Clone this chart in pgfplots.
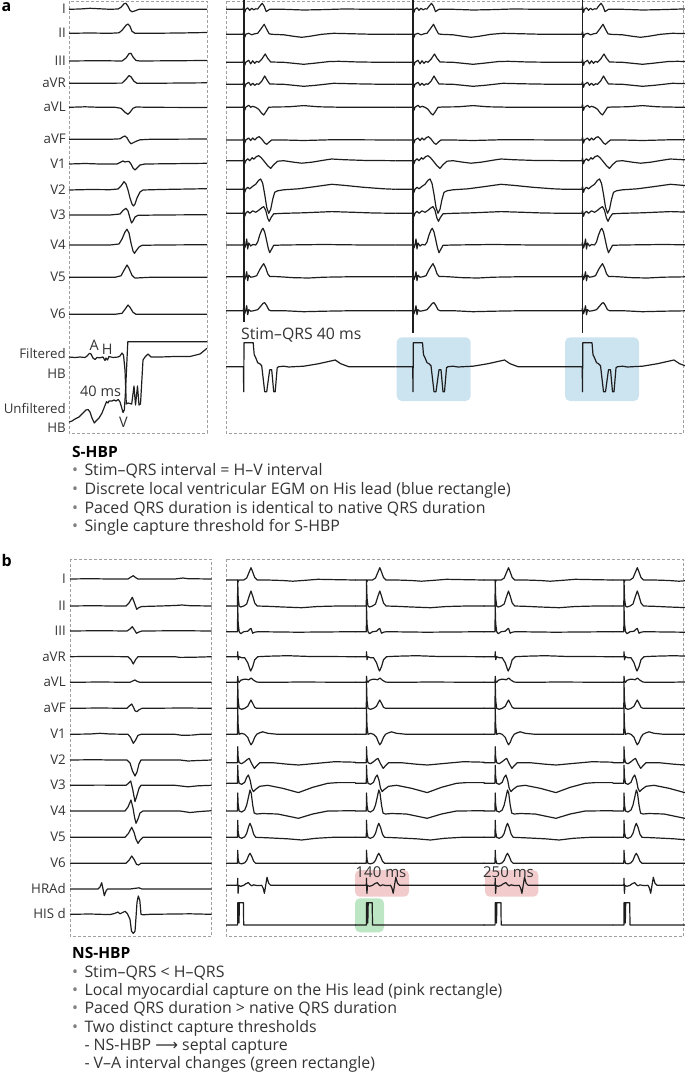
\documentclass[border=0pt]{standalone}
\usepackage{pgfplots}
\pgfplotsset{compat=1.18}
\usepackage{pgfplotstable}
\usepackage{fontspec}
\setmainfont{Open Sans}
\newfontfamily\djv{DejaVu Sans}
\definecolor{trc}{HTML}{1E1E1E}
\definecolor{labc}{HTML}{333333}
\definecolor{boxc}{HTML}{A0A0A0}
\definecolor{bluebox}{HTML}{CCE3F0}
\definecolor{pinkbox}{HTML}{F2CCCC}
\definecolor{greenbox}{HTML}{BDE6C4}
\definecolor{bulc}{HTML}{808080}

% ---------- panel a, native beat (absolute x, amplitude up) ----------
\pgfplotstableread[row sep=\\]{x y\\69 0\\80 0.3\\90 1\\100 0.5\\110 0\\118 0.3\\121 2\\124 5.5\\126 6\\128 3\\130 -1\\132 -2.5\\135 -1.5\\139 0\\150 0\\207 0\\}\aLI
\pgfplotstableread[row sep=\\]{x y\\69 0\\90 0.3\\110 0\\119 0.5\\122 3\\126 8\\128 9.3\\130 7\\132 2\\135 0\\150 0\\180 0.3\\207 0.8\\}\aLII
\pgfplotstableread[row sep=\\]{x y\\69 0\\100 0.3\\122 0\\126 3\\129 7.3\\131 7.7\\133 4\\136 0.5\\140 0\\207 0.5\\}\aLIII
\pgfplotstableread[row sep=\\]{x y\\69 0\\100 0\\122 0.2\\126 4\\129 7.7\\131 6.5\\134 2\\137 0\\150 0\\207 0.5\\}\aLaVR
\pgfplotstableread[row sep=\\]{x y\\69 0\\85 0.5\\100 0\\115 0\\121 -1\\125 -5\\128 -7\\130 -5\\133 -1\\136 0.3\\150 0\\207 -0.2\\}\aLaVL
\pgfplotstableread[row sep=\\]{x y\\69 0\\110 0\\120 0.5\\123 2.5\\125 3.3\\127 1.5\\129 -2\\131 -4.5\\133 -3.5\\136 -2\\140 -0.5\\150 0\\207 0.3\\}\aLaVF
\pgfplotstableread[row sep=\\]{x y\\69 0\\85 0.5\\100 0\\117 0\\121 2\\123 3\\125 2\\127 2.5\\129 2.5\\131 0\\133 -4\\135 -6\\137 -4\\140 -1\\145 0\\207 0.7\\}\aLVi
\pgfplotstableread[row sep=\\]{x y\\69 0\\90 0.5\\110 0.3\\118 1\\121 4\\124 8.3\\126 6\\128 0\\130 -8\\132 -14\\133.5 -16\\135 -14\\137 -8\\140 -2\\143 0\\160 0.5\\207 1.3\\}\aLVii
\pgfplotstableread[row sep=\\]{x y\\69 0\\110 0\\120 1\\123 4.5\\126 6.7\\128 4\\130 -3\\131.5 -8\\133 -6\\135 -2\\138 -0.3\\160 0\\207 0.3\\}\aLViii
\pgfplotstableread[row sep=\\]{x y\\69 0\\110 0\\119 1\\122 6\\125 13\\127 15.7\\129 12\\131 2\\133 -6\\134.5 -8.3\\136 -6\\139 -2\\142 -0.3\\160 0\\207 0.3\\}\aLViv
\pgfplotstableread[row sep=\\]{x y\\69 0\\115 0\\121 1.5\\124 7\\127 12.3\\129 9\\132 2\\135 -0.8\\140 -0.5\\150 0\\207 0\\}\aLVv
\pgfplotstableread[row sep=\\]{x y\\69 0\\115 0\\122 1\\125 5\\128 9.3\\130 7\\133 2\\136 0\\207 0\\}\aLVvi
% filtered / unfiltered HB (absolute y)
\pgfplotstableread[row sep=\\]{x y\\69 357\\75 357.5\\80 357\\85 357.5\\87 356\\89.5 353.3\\91 354\\93 358\\95 359.5\\97 357.5\\100 357.8\\103 357\\105 360.5\\106 358\\107.5 360\\109 356.5\\113 357.5\\118 357\\120 356\\122 353\\123.5 355\\125 370\\126.3 404\\128 403\\131.7 404\\134 386\\135.5 405\\137.5 386\\139 405\\140.5 404\\143 360\\145 357\\148 354\\151 357\\160 357\\175 356.5\\190 356.5\\200 354\\207 348.3\\}\aFilt
\pgfplotstableread[row sep=\\]{x y\\69 422\\72 421\\75 419\\79 417\\83 413\\86 410\\88 409.5\\90 412\\92 418\\94.3 423\\96 421\\99 418\\102 413\\104 408\\106.5 401.7\\108 403\\109 401\\112 401\\114 400\\116 401\\118.3 399.5\\120 402\\121.5 407\\123 412.5\\124.3 410\\125.3 395\\126.5 370\\127.8 341.7\\207 341.7\\}\aUnf

% ---------- panel a, paced beat templates (dx from stimulus) ----------
\pgfplotstableread[row sep=\\]{x y\\-17.5 0\\-0.5 0\\0 3\\1 -3\\2 0\\4 1.5\\6 -1\\8 1\\10 -0.5\\12 0.5\\14 0.3\\16 3\\18.5 6\\20.5 3\\22.5 -2.3\\24.5 -1\\26 0\\40 0\\60 -0.7\\80 -0.3\\100 0.3\\130 0\\152 0\\}\aRI
\pgfplotstableread[row sep=\\]{x y\\-17.5 0\\-0.5 0\\0 3\\1 -3\\2 0\\5 1\\8 -0.5\\11 0.5\\14 1\\17 5\\20.5 10\\23 5\\25.5 0.5\\28 0\\40 -0.5\\50 -2\\58 -3\\66 -2\\78 0\\90 1\\110 0.5\\130 0\\152 0\\}\aRII
\pgfplotstableread[row sep=\\]{x y\\-17.5 0\\-0.5 0\\0 3\\1 -3\\2 0\\5 2\\7 -1.5\\9 1.5\\11 -1\\13 1\\15 0\\18 3\\21.5 8.3\\24 4\\27 0.3\\40 0\\50 -1\\60 -2\\70 -1\\85 0.7\\95 1\\115 0.3\\140 0\\152 0\\}\aRIII
\pgfplotstableread[row sep=\\]{x y\\-17.5 0\\-0.5 0\\0 3\\1 -3\\2 0\\5 2\\7 -1\\9 1\\11 -1\\13 0.5\\15 0\\18 3\\21 8.3\\23.5 4\\26 0.3\\40 0\\50 -1\\60 -2\\72 -1\\90 1\\110 0.5\\140 0\\152 0\\}\aRaVR
\pgfplotstableread[row sep=\\]{x y\\-17.5 0\\-0.5 0\\0 3\\1 -3\\2 0\\5 2\\7 0\\9 1\\12 0\\15 -2\\18 -6\\20 -7.7\\22.5 -4\\25 0\\30 0.3\\45 0.5\\60 1.7\\75 0.5\\100 0\\152 0\\}\aRaVL
\pgfplotstableread[row sep=\\]{x y\\-17.5 0\\-0.5 0\\0 3\\1 -3\\2 0\\5 2\\7 -0.5\\9 2\\11 0\\13.5 2.5\\15.5 3.3\\18 1\\21 -3\\23 -4.3\\25.5 -2\\28 0\\40 0\\60 -0.5\\90 0.3\\152 0\\}\aRaVF
\pgfplotstableread[row sep=\\]{x y\\-17.5 0\\-0.5 0\\0 3\\1 -3\\2 0\\4 2\\6 0\\8.5 3\\10 1.5\\12.5 4\\15 5\\17.5 3\\20 0\\24 -5\\27 -7.7\\30 -4\\34 -0.5\\40 0\\50 -1.5\\58 -2.5\\68 -1.5\\80 0.5\\88 1.7\\100 1\\120 0.3\\152 0\\}\aRVi
\pgfplotstableread[row sep=\\]{x y\\-17.5 0\\-0.5 0\\0 3\\1 -3\\2 0\\4 2\\6 0.5\\9 3\\12 5\\15 9\\17 10.3\\19 6\\21 -5\\23 -18\\25 -24\\27 -20\\29 -10\\31 -3\\34 -1.5\\40 -0.5\\55 0.5\\70 2.5\\88 5\\100 4\\120 2\\140 0.5\\152 0\\}\aRVii
\pgfplotstableread[row sep=\\]{x y\\-17.5 0\\-0.5 0\\0 3\\1 -3\\2 0\\4 2\\6 0\\9 2.5\\12 1\\15 3\\18 5.5\\20 6.7\\22 3\\24 -5\\25.5 -8\\27.5 -4\\30 -0.5\\40 0\\60 0.5\\88 1.7\\110 1\\130 0.3\\152 0\\}\aRViii
\pgfplotstableread[row sep=\\]{x y\\-17.5 0\\-0.5 0\\0 3\\1 -3\\2 0\\3 6\\4 -4\\5 2\\7 -1\\9 0.5\\12 0\\14 3\\16 10\\18 15\\19.3 16.7\\21 13\\23 4\\24.5 -3\\26 -7.7\\28 -4\\30 -0.3\\40 0\\80 0.5\\120 0\\152 0\\}\aRViv
\pgfplotstableread[row sep=\\]{x y\\-17.5 0\\-0.5 0\\0 3\\1 -3\\2 0\\3 5\\4 -4\\5 1.5\\7 -0.5\\10 0\\13 1\\16 7\\18.5 11\\20 13\\22 9\\24 3\\26 0.3\\35 0\\50 -1\\65 -1.3\\80 -0.5\\110 0\\152 0\\}\aRVv
\pgfplotstableread[row sep=\\]{x y\\-17.5 0\\-0.5 0\\0 3\\1 -3\\2 0\\3 5\\4 -4\\5 1\\7 -0.5\\10 0\\14 1\\17 4.5\\19.5 7.5\\21 8\\23 5\\25 1\\27 0\\40 0\\60 -1\\80 -0.5\\110 0\\152 0\\}\aRVvi
\pgfplotstableread[row sep=\\]{x y\\-17.5 0\\-0.3 0\\0 -25\\0.3 24\\9.5 24\\10.5 12\\12 9\\14 4\\16 3\\18 1\\21 -25\\23 -25\\26 -3\\28 -3\\30 -25\\31.5 -25\\33.5 -1\\35 0\\40 0.5\\45 -0.3\\50 0\\60 0.5\\75 3\\91.5 6.7\\97 3\\105 0\\152 0\\}\aRHB

% ---------- panel b, native beat ----------
\pgfplotstableread[row sep=\\]{x y\\70 0\\90 0.3\\110 0\\128 0\\131 2\\133.3 3.3\\135.5 1.5\\138 0\\175 0\\183 1\\188 0.3\\211.7 0\\}\bLI
\pgfplotstableread[row sep=\\]{x y\\70 0\\95 0.3\\110 0\\126 0\\129 3\\132.3 8.7\\134.5 3\\136.7 -3.3\\139 -1.5\\142 -0.5\\160 0\\175 0.5\\182 1\\190 0.3\\211.7 0\\}\bLII
\pgfplotstableread[row sep=\\]{x y\\70 0\\100 0.3\\127 0\\130 2\\132.3 4.3\\134.5 1\\136.5 -2.3\\139 -1\\142 0\\180 0.3\\211.7 0\\}\bLIII
\pgfplotstableread[row sep=\\]{x y\\70 0\\90 0.3\\128 0\\131 -3\\133.3 -7.3\\135.5 -3\\138 0\\175 0\\180 -0.7\\195 -0.5\\211.7 0\\}\bLaVR
\pgfplotstableread[row sep=\\]{x y\\70 0\\100 0.3\\130 0\\133 1.5\\135 2.3\\137 1\\140 0\\211.7 0\\}\bLaVL
\pgfplotstableread[row sep=\\]{x y\\70 0\\100 0.3\\127 0\\129.5 2.5\\131.7 4.3\\133.5 1\\135 -2.5\\137 -3.3\\139 -1.5\\142 0\\185 0.3\\211.7 0\\}\bLaVF
\pgfplotstableread[row sep=\\]{x y\\70 0\\90 0.3\\100 1\\110 0.3\\128 0\\130.5 -3\\133.3 -9\\135.5 -6\\138 -1\\141 0\\175 0\\182 -1\\192 -0.8\\200 0\\211.7 0\\}\bLVi
\pgfplotstableread[row sep=\\]{x y\\70 0\\95 0.3\\110 0\\127 0\\130 -3\\132.5 -11\\135 -16\\137 -12\\139 -4\\141 0\\180 0\\188 -1\\198 -0.5\\211.7 0\\}\bLVii
\pgfplotstableread[row sep=\\]{x y\\70 0\\100 0.2\\126 0\\128.5 2\\130.7 4.3\\132.5 -3\\135 -16.3\\137 -10\\139 -3\\141 0\\175 0\\188 -1.5\\198 -0.5\\211.7 0\\}\bLViii
\pgfplotstableread[row sep=\\]{x y\\70 0\\110 0\\125 0\\128 4\\131 11\\133 3\\134.5 -6\\136 -12.3\\138 -8\\140 -2\\143 0\\180 0\\190 -1.5\\200 -0.5\\211.7 0.3\\}\bLViv
\pgfplotstableread[row sep=\\]{x y\\70 0\\125 0\\128.5 4\\131.7 10\\134 5\\136 -2\\138 -6\\140 -3\\143 0\\211.7 0\\}\bLVv
\pgfplotstableread[row sep=\\]{x y\\70 0\\126 0\\129 3\\131.7 7.3\\134 4\\136.5 -1\\138.5 -1.7\\141 0\\211.7 0\\}\bLVvi
\pgfplotstableread[row sep=\\]{x y\\70 0\\98 0\\100 2\\101.7 6.3\\103 0\\104.3 -6.7\\106 -2\\107.5 0\\130 0\\136 0.8\\139 1.2\\142 0\\211.7 0\\}\bLHRA
\pgfplotstableread[row sep=\\]{x y\\70 0\\90 0.3\\110 -0.3\\115 1\\118 2.3\\120 0.5\\122 1.5\\125 3\\127.5 0.5\\130 -5\\131.5 -17\\133.3 -19\\135 -17\\136 -3\\137 12\\138.3 18.3\\139.8 14\\141 0\\143 -0.5\\150 0\\190 0.5\\211.7 0\\}\bLHIS

% ---------- panel b, paced beat templates ----------
\pgfplotstableread[row sep=\\]{x y\\-11.5 0\\0 0\\0.3 -2\\1 0\\6 0\\9 2\\11.5 8\\13.3 12.3\\15 8\\17 2.5\\19.5 0\\30 0\\45 -0.5\\55 -1.2\\65 -0.5\\80 0.7\\100 0.3\\118 0\\}\bRI
\pgfplotstableread[row sep=\\]{x y\\-11.5 0\\-0.2 0\\0 26\\0.5 8\\1.5 0\\3 -1\\6 0\\9 2\\11.5 10\\13.3 15\\15 10\\17 3\\19.5 0\\30 -0.3\\45 -1\\64 -1.7\\80 -0.5\\100 0\\118 0\\}\bRII
\pgfplotstableread[row sep=\\]{x y\\-11.5 0\\-0.2 0\\0 26\\0.5 8\\1.5 0\\3 -2\\6 0\\10 0.5\\12 2.5\\13.3 3.3\\15 -1.5\\17 -0.5\\20 0\\60 -0.5\\118 0\\}\bRIII
\pgfplotstableread[row sep=\\]{x y\\-11.5 0\\-0.2 0\\0 5\\0.5 -3\\1.5 0\\4 -1\\7 -1\\10 -6\\12 -12\\13 -14.3\\15 -10\\17 -3\\20 0\\30 0.5\\50 1\\70 0.3\\118 0\\}\bRaVR
\pgfplotstableread[row sep=\\]{x y\\-11.5 0\\-0.2 0\\0 6\\0.5 1\\1.5 0\\3 2\\6 3\\9 3\\11 2.5\\13.5 4.3\\16 2\\19 0.3\\22 0\\40 0\\60 0.3\\118 0\\}\bRaVL
\pgfplotstableread[row sep=\\]{x y\\-11.5 0\\-0.2 0\\0 26\\0.5 8\\1.5 0\\4 -1\\7 0\\10 2\\12 6\\13.3 8.3\\15 5\\17 1\\19 0\\50 0\\118 0\\}\bRaVF
\pgfplotstableread[row sep=\\]{x y\\-11.5 0\\-0.2 0\\0 26\\0.5 8\\1.5 0\\4 1\\7 0\\10 -3\\12 -8\\13.3 -10.5\\15 -8\\17 -3\\19 0\\22 1.5\\25 2.5\\30 1\\40 0\\118 0\\}\bRVi
\pgfplotstableread[row sep=\\]{x y\\-11.5 0\\-0.2 0\\0 16\\0.5 5\\1.5 0\\4 -1\\7 1\\10 3.5\\11.5 4.3\\14 -1\\16.7 -5.7\\19 -3\\22 0\\35 0\\50 -1.5\\61 -2.3\\75 -1\\97 1\\118 0.5\\}\bRVii
\pgfplotstableread[row sep=\\]{x y\\-11.5 0\\-0.2 0\\0 18\\0.5 6\\1.5 0\\4 -1\\7 1\\9 6\\10.7 8.3\\12.5 3\\14 -5\\15.7 -8.3\\18 -6\\22 -3\\30 -2\\45 -5\\60.7 -9.3\\75 -4\\90 0\\100 0.7\\118 0.7\\}\bRViii
\pgfplotstableread[row sep=\\]{x y\\-11.5 0\\-0.2 0\\0 18\\0.5 6\\1.5 0\\4 -1\\7 1\\9 6\\11 15\\12.3 21\\13.5 18\\15 6\\16.5 -2\\19 -3\\25 -2.5\\40 -3\\60.7 -7.3\\75 -3\\90 0\\118 0.3\\}\bRViv
\pgfplotstableread[row sep=\\]{x y\\-11.5 0\\-0.2 0\\0 17\\0.5 5\\1.5 0\\4 -1\\7 0.5\\9 4\\11 11\\12.3 14\\14 10\\16 3\\18 0\\30 -0.5\\50 -1.5\\64 -2.7\\78 -1\\95 0\\118 0\\}\bRVv
\pgfplotstableread[row sep=\\]{x y\\-11.5 0\\-0.2 0\\0 13\\0.5 4\\1.5 0\\4 -0.5\\7 0.5\\9 3\\11 8\\12.3 10\\14 7\\16 2\\18 0\\118 0\\}\bRVvi
\pgfplotstableread[row sep=\\]{x y\\-11.5 0\\-0.2 0\\0 7\\0.4 -8\\1 0\\3 -1\\6 0\\8 1.5\\10.7 2.7\\12.5 0.5\\14 -0.5\\16 0.5\\18 0\\20 -0.3\\24 0\\25.5 -3\\26.7 -8\\28 0\\29.3 8\\31 2\\33 0\\118 0\\}\bRHRA
\pgfplotstableread[row sep=\\]{x y\\-11.5 0\\-0.1 0\\0 22.3\\1.3 22.3\\1.3 2\\1.7 22.3\\5.7 22.3\\6 0\\118 0\\}\bRHIS

\pgfplotstableread[row sep=\\]{x y\\243.7 0\\243.7 322\\}\stimA
\pgfplotstableread[row sep=\\]{x y\\413 0\\413 333\\}\stimB
\pgfplotstableread[row sep=\\]{x y\\582.5 0\\582.5 333\\}\stimC

\tikzset{tl/.style={color=trc, line width=1.2pt, line join=round},
  body/.style={anchor=base west, inner sep=0pt, text height=0.72em, text depth=0.12em, font=\fontsize{15.9}{17}\selectfont}}
\newcommand{\tr}[3]{\addplot[tl] table[x expr=\thisrow{x}+#2, y expr=#3-\thisrow{y}]{#1};}
\newcommand{\ta}[2]{\tr{#1}{243.7}{#2}\tr{#1}{413}{#2}\tr{#1}{582.5}{#2}}
\newcommand{\tb}[2]{\tr{#1}{237.7}{#2}\tr{#1}{366.5}{#2}\tr{#1}{495.2}{#2}\tr{#1}{624}{#2}}
\newcommand{\lab}[2]{\node[anchor=base east, inner sep=0pt, text=labc, font=\fontsize{13.3}{15}\selectfont] at (axis cs:66,#1) {#2};}
\newcommand{\btxt}[2]{\node[body, text=bulc] at (axis cs:72,#1) {•};
  \node[body, text=labc] at (axis cs:84.3,#1) {#2};}
\newcommand{\stxt}[2]{\node[body, text=labc] at (axis cs:84.3,#1) {#2};}

\begin{document}
\begin{tikzpicture}
\path[use as bounding box] (0,0) rectangle (685pt,1073pt);
\begin{axis}[at={(0,0)}, anchor=south west, scale only axis, width=685pt, height=1073pt,
  xmin=0, xmax=685, ymin=0, ymax=1073, y dir=reverse, hide axis, clip mode=individual]

% highlight boxes
\fill[bluebox, rounded corners=5pt] (axis cs:396.7,337.3) rectangle (axis cs:470.7,401);
\fill[bluebox, rounded corners=5pt] (axis cs:565,337.3) rectangle (axis cs:639,401);
\fill[pinkbox, rounded corners=5pt] (axis cs:355,870) rectangle (axis cs:409,896.7);
\fill[pinkbox, rounded corners=5pt] (axis cs:485,870) rectangle (axis cs:538.3,896.7);
\fill[greenbox, rounded corners=5pt] (axis cs:355,898.3) rectangle (axis cs:384,932.3);

% dashed frames
\draw[boxc, line width=0.9pt, dash pattern=on 3pt off 2pt] (axis cs:69,1) rectangle (axis cs:207,433);
\draw[boxc, line width=0.9pt, dash pattern=on 3pt off 2pt] (axis cs:226,1) rectangle (axis cs:683.5,433);
\draw[boxc, line width=0.9pt, dash pattern=on 3pt off 2pt] (axis cs:70,559) rectangle (axis cs:211.7,936);
\draw[boxc, line width=0.9pt, dash pattern=on 3pt off 2pt] (axis cs:226,559) rectangle (axis cs:683.5,936);

% panel a native
\tr{\aLI}{0}{9.3}\tr{\aLII}{0}{33.3}\tr{\aLIII}{0}{61}\tr{\aLaVR}{0}{83.3}
\tr{\aLaVL}{0}{107.3}\tr{\aLaVF}{0}{139.3}\tr{\aLVi}{0}{164}\tr{\aLVii}{0}{190}
\tr{\aLViii}{0}{215}\tr{\aLViv}{0}{245}\tr{\aLVv}{0}{277.3}\tr{\aLVvi}{0}{314.3}
\addplot[tl] table[x=x, y=y]{\aFilt};
\addplot[tl] table[x=x, y=y]{\aUnf};

% panel a paced
\ta{\aRI}{9.3}\ta{\aRII}{34.3}\ta{\aRIII}{62.3}\ta{\aRaVR}{84.3}\ta{\aRaVL}{107.3}
\ta{\aRaVF}{140}\ta{\aRVi}{160.7}\ta{\aRVii}{189.3}\ta{\aRViii}{213.3}
\ta{\aRViv}{245}\ta{\aRVv}{276.7}\ta{\aRVvi}{310.7}\ta{\aRHB}{366.7}
\addplot[color=trc, line width=1.8pt] table[x=x,y=y]{\stimA};
\addplot[color=trc, line width=1.8pt] table[x=x,y=y]{\stimB};
\addplot[color=trc, line width=1.8pt] table[x=x,y=y]{\stimC};

% panel b native
\tr{\bLI}{0}{579}\tr{\bLII}{0}{606}\tr{\bLIII}{0}{631}\tr{\bLaVR}{0}{656.7}
\tr{\bLaVL}{0}{682.3}\tr{\bLaVF}{0}{708.3}\tr{\bLVi}{0}{734.3}\tr{\bLVii}{0}{760}
\tr{\bLViii}{0}{785.3}\tr{\bLViv}{0}{811}\tr{\bLVv}{0}{837.3}\tr{\bLVvi}{0}{863.3}
\tr{\bLHRA}{0}{889}\tr{\bLHIS}{0}{914.3}

% panel b paced
\tb{\bRI}{580}\tb{\bRII}{606}\tb{\bRIII}{631.7}\tb{\bRaVR}{656.7}\tb{\bRaVL}{682.3}
\tb{\bRaVF}{708.3}\tb{\bRVi}{734.3}\tb{\bRVii}{762.7}\tb{\bRViii}{783.3}
\tb{\bRViv}{811}\tb{\bRVv}{837.3}\tb{\bRVvi}{863.3}\tb{\bRHRA}{885.3}\tb{\bRHIS}{925}

% panel labels
\node[anchor=base west, inner sep=0pt, font=\bfseries\fontsize{16}{19}\selectfont, text=black] at (axis cs:1.5,11.7) {a};
\node[anchor=base west, inner sep=0pt, font=\bfseries\fontsize{16}{19}\selectfont, text=black] at (axis cs:1.5,566.7) {b};

% lead labels a
\lab{13.9}{I}\lab{37.9}{II}\lab{65.6}{III}\lab{87.9}{aVR}\lab{111.9}{aVL}\lab{143.9}{aVF}
\lab{168.6}{V1}\lab{194.6}{V2}\lab{219.6}{V3}\lab{249.6}{V4}\lab{281.9}{V5}\lab{318.9}{V6}
\lab{358.6}{Filtered}\lab{378.6}{HB}\lab{413.6}{Unfiltered}\lab{432.6}{HB}
% lead labels b
\lab{583.6}{I}\lab{610.6}{II}\lab{635.6}{III}\lab{661.3}{aVR}\lab{686.9}{aVL}\lab{712.9}{aVF}
\lab{738.9}{V1}\lab{764.6}{V2}\lab{789.9}{V3}\lab{815.6}{V4}\lab{841.9}{V5}\lab{867.9}{V6}
\lab{893.6}{HRAd}\lab{918.9}{HIS d}

% annotations
\node[anchor=base west, inner sep=0pt, text=labc, font=\fontsize{14.5}{16}\selectfont] at (axis cs:89.3,350) {A};
\node[anchor=base west, inner sep=0pt, text=labc, font=\fontsize{14.5}{16}\selectfont] at (axis cs:101.7,354) {H};
\node[anchor=base west, inner sep=0pt, text=labc, font=\fontsize{14.5}{16}\selectfont] at (axis cs:119,427.3) {V};
\node[anchor=base west, inner sep=0pt, text=labc, font=\fontsize{14.5}{16}\selectfont] at (axis cs:80,396.7) {40 ms};
\node[anchor=base west, inner sep=0pt, text=labc, font=\fontsize{15.8}{17}\selectfont] at (axis cs:241,339) {Stim–QRS 40 ms};
\node[anchor=base, inner sep=0pt, text=labc, font=\fontsize{15}{16}\selectfont] at (axis cs:381,877.7) {140 ms};
\node[anchor=base, inner sep=0pt, text=labc, font=\fontsize{15}{16}\selectfont] at (axis cs:508.5,877.7) {250 ms};

% text a
\node[anchor=base west, inner sep=0pt, text=black, font=\bfseries\fontsize{15.5}{18}\selectfont] at (axis cs:72,457.3) {S-HBP};
\btxt{475.7}{Stim–QRS interval = H–V interval}
\btxt{494}{Discrete local ventricular EGM on His lead (blue rectangle)}
\btxt{513.3}{Paced QRS duration is identical to native QRS duration}
\btxt{531.7}{Single capture threshold for S-HBP}
% text b
\node[anchor=base west, inner sep=0pt, text=black, font=\bfseries\fontsize{15.5}{18}\selectfont] at (axis cs:72,958.5) {NS-HBP};
\btxt{977}{Stim–QRS < H–QRS}
\btxt{995.3}{Local myocardial capture on the His lead (pink rectangle)}
\btxt{1013.7}{Paced QRS duration > native QRS duration}
\btxt{1032}{Two distinct capture thresholds}
\stxt{1050.3}{- NS-HBP {\djv ⟶} septal capture}
\stxt{1068.6}{- V–A interval changes (green rectangle)}
\end{axis}
\end{tikzpicture}
\end{document}
